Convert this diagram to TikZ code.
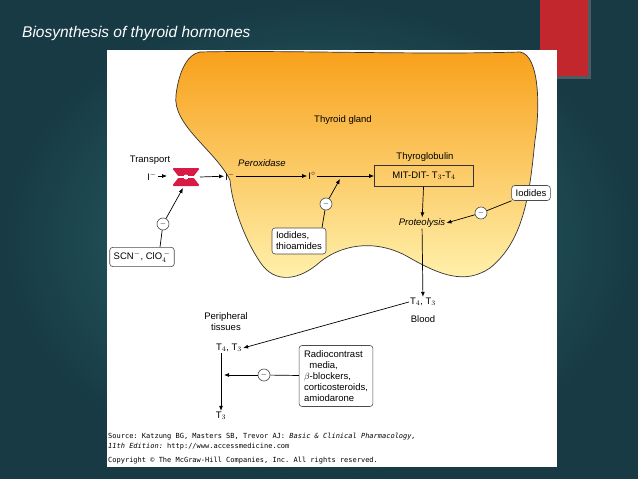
\documentclass[tikz,border=0pt]{standalone}
\usepackage{fontspec}
\setmainfont{Liberation Sans}
\setmonofont{DejaVu Sans Mono}
\usetikzlibrary{arrows.meta,shadows}
\definecolor{bgin}{HTML}{2F6F73}
\definecolor{bgout}{HTML}{173A44}
\definecolor{slred}{HTML}{C1272D}
\definecolor{chred}{HTML}{D81B45}
\definecolor{gtop}{HTML}{F8A01A}
\definecolor{gbot}{HTML}{FFF3B0}
\tikzset{
  lbl/.style={font=\fontsize{9.5}{11}\selectfont, inner sep=1pt},
  it/.style={lbl, font=\fontsize{9.5}{11}\selectfont\itshape},
  rbox/.style={draw=black!70, rounded corners=3pt, fill=white, lbl, inner sep=4pt, line width=0.6pt},
  minus/.style={circle, draw=black!70, fill=white, inner sep=0pt, minimum size=12pt, font=\fontsize{7}{7}\selectfont, line width=0.6pt},
  arr/.style={-{Latex[length=5pt,width=4pt]}, line width=0.7pt},
  ln/.style={line width=0.7pt},
  foot/.style={font=\fontsize{7}{8}\selectfont\ttfamily, inner sep=0pt, anchor=west}
}
\begin{document}
\begin{tikzpicture}[x=1pt,y=-1pt]
\useasboundingbox (0,0) rectangle (638,479);
\shade[inner color=bgin, outer color=bgout] (0,0) rectangle (638,479);
\fill[black!50, opacity=0.5] (543,0) rectangle (591,79);
\fill[slred] (540,0) rectangle (588,76);
\node[anchor=west, text=white, font=\fontsize{15.5}{17}\selectfont\itshape, inner sep=0pt] (title) at (22,33) {Biosynthesis of thyroid hormones};
\fill[white] (107,50) rectangle (557,467);
% gland
\shade[top color=gtop, bottom color=gbot, draw=black!80, line width=0.7pt]
 (200,52) .. controls (280,50) and (420,55) .. (520,52)
 .. controls (540,55) and (540,110) .. (535,140)
 .. controls (530,190) and (525,240) .. (490,268)
 .. controls (465,285) and (440,275) .. (410,258)
 .. controls (380,240) and (345,242) .. (320,262)
 .. controls (300,280) and (275,285) .. (260,262)
 .. controls (245,240) and (232,205) .. (230,180)
 .. controls (215,150) and (172,125) .. (176,95)
 .. controls (179,70) and (188,54) .. (200,52) -- cycle;
\node[lbl] (gland) at (343,120) {Thyroid gland};
\node[lbl] (transport) at (150,160) {Transport};
\node[lbl] (i1) at (152,176) {I$^{-}$};
\coordinate (chan) at (186,177);
\fill[chred, rounded corners=1.5pt] (172,168) -- (200,168) -- (193,177) -- (200,186) -- (172,186) -- (179,177) -- cycle;
\fill[white] (172,176.2) rectangle (200,177.8);
\fill[white] (186,177) circle (2.5);
\node[lbl] (i2) at (230,176) {I$^{-}$};
\node[it] (perox) at (262,163) {Peroxidase};
\node[lbl] (i0) at (312,176) {I$^{\circ}$};
\node[draw=black!80, line width=0.6pt, lbl, minimum width=99pt, minimum height=21pt] (mit) at (424,176) {MIT-DIT- T$_3$-T$_4$};
\node[lbl] (tg) at (425,157) {Thyroglobulin};
\node[it] (prot) at (422,223) {Proteolysis};
\node[rbox] (iod) at (531,193) {Iodides};
\node[minus] (m3) at (481,213) {$-$};
\node[lbl] (blood1) at (423,302) {T$_4$, T$_3$};
\node[lbl] (blood2) at (423,319) {Blood};
\node[lbl, align=center] (periph) at (226,322) {Peripheral\\tissues};
\node[lbl] (pt) at (229,348) {T$_4$, T$_3$};
\node[lbl] (t3) at (221,416) {T$_3$};
\node[rbox, align=left, inner sep=5pt] (radio) at (336,376) {Radiocontrast\\\ \ media,\\$\beta$-blockers,\\corticosteroids,\\amiodarone};
\node[minus] (m4) at (264,375) {$-$};
\coordinate (hit) at (224,375);
\node[rbox, inner sep=4pt] (scn) at (142,257) {SCN$^{-}$, ClO$_4^{\,-}$};
\node[minus] (m1) at (163,224) {$-$};
\node[rbox, align=left] (thio) at (299,241) {Iodides,\\thioamides};
\node[minus] (m2) at (326,204) {$-$};
% connectors
\draw[arr] (chan) ++(14,0) -- (i2);
\draw[arr] (i1) -- ++(15,0);
\draw[arr] (i2) -- (i0);
\draw[arr] (i0) -- (mit);
\draw[arr] (mit) -- (prot);
\draw[ln] (iod) -- (m3);
\draw[arr] (m3) -- (prot.east);
\draw[arr] (prot) -- (blood1);
\draw[arr] (blood1.west) -- (pt.east);
\draw[arr] (pt.south -| t3) -- (t3);
\draw[ln] (radio) -- (m4);
\draw[arr] (m4) -- (hit);
\draw[ln] (scn.north) ++(18,0) -- (m1);
\draw[arr] (m1) -- (183,188);
\draw[ln] (thio.north) ++(23,0) -- (m2);
\draw[arr] (m2) -- (340,179);
\node[foot] (src1) at (108,437) {Source: Katzung BG, Masters SB, Trevor AJ: \textit{Basic \& Clinical Pharmacology,}};
\node[foot] (src2) at (108,447) {\textit{11th Edition:} http://www.accessmedicine.com};
\node[foot] (copy) at (108,461) {Copyright © The McGraw-Hill Companies, Inc. All rights reserved.};
\end{tikzpicture}
\end{document}
